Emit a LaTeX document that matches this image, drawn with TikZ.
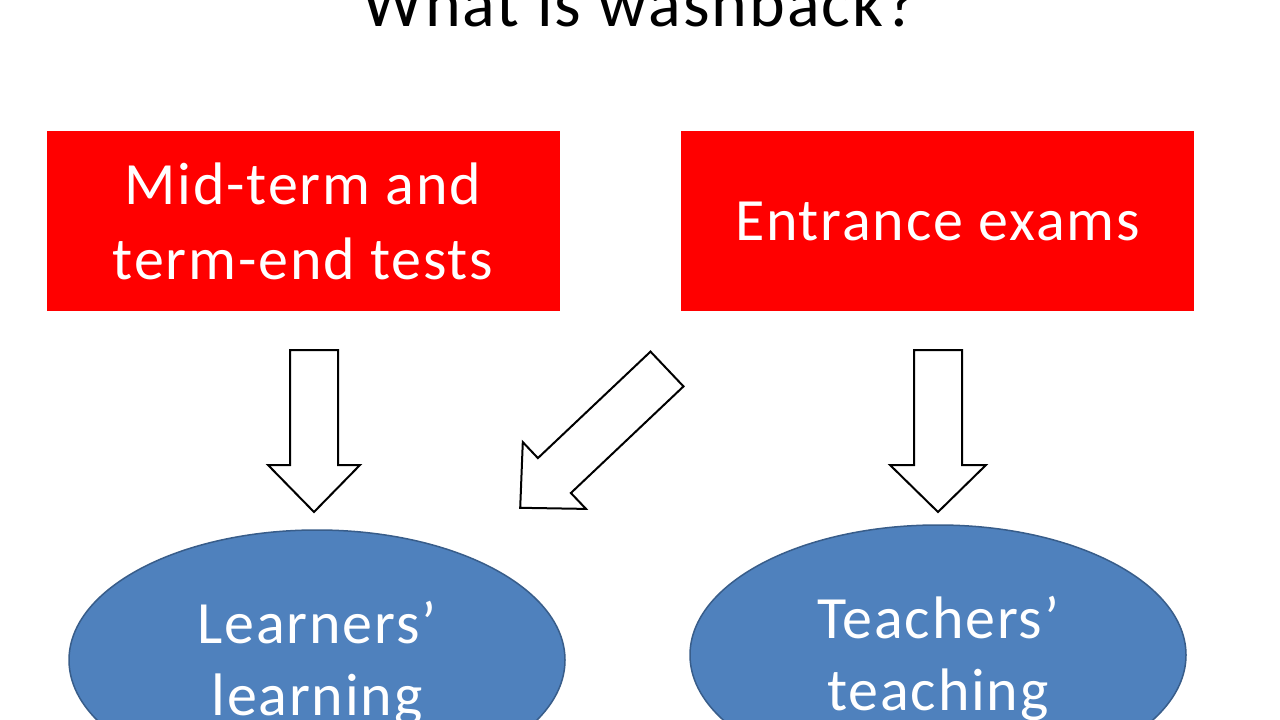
\documentclass[tikz,border=0pt]{standalone}
\usepackage{fontspec}
\setmainfont{Carlito}[LetterSpace=3]
\usetikzlibrary{shapes.geometric}
\definecolor{ebl}{HTML}{4F81BD}
\definecolor{ebd}{HTML}{385D8A}
\tikzset{
 redbox/.style={fill=red,draw=red,minimum width=512pt,minimum height=179pt,inner sep=0pt,text=white,align=center,font=\fontsize{60}{75}\selectfont},
 oval/.style={ellipse,fill=ebl,draw=ebd,line width=1.5pt,minimum width=496pt,minimum height=260pt,inner sep=0pt},
 otext/.style={text=white,align=center,font=\fontsize{60}{72}\selectfont},
 barrow/.style={draw=black,line width=2pt,fill=white,line join=miter}
}
\begin{document}
\begin{tikzpicture}[x=1pt,y=-1pt]
\useasboundingbox (0,0) rectangle (1280,720);
\clip (0,0) rectangle (1280,720);
\fill[white] (0,0) rectangle (1280,720);
\node[font=\fontsize{68}{70}\selectfont,anchor=base] (title) at (640,26) {What is washback?};
\node[redbox] (b1) at (303,221) {Mid-term and\\term-end tests};
\node[redbox] (b2) at (937.5,221) {Entrance exams};
\node[oval] (e1) at (317,660) {};
\node[oval] (e2) at (938,655) {};
\node[otext] (t1) at (317,663) {Learners’\\learning};
\node[otext] (t2) at (938,658) {Teachers’\\teaching};
% down arrows
\draw[barrow] (290,350)--(338,350)--(338,465)--(360,465)--(314,512)--(268,465)--(290,465)--cycle;
\draw[barrow] (914,350)--(962,350)--(962,465)--(986,465)--(938,512)--(890,465)--(914,465)--cycle;
% diagonal arrow
\draw[barrow] (650.5,351.6)--(683.5,386.4)--(570.9,493.0)--(586.0,508.9)--(520.2,507.8)--(522.8,442.1)--(537.9,458.1)--cycle;
\end{tikzpicture}
\end{document}
